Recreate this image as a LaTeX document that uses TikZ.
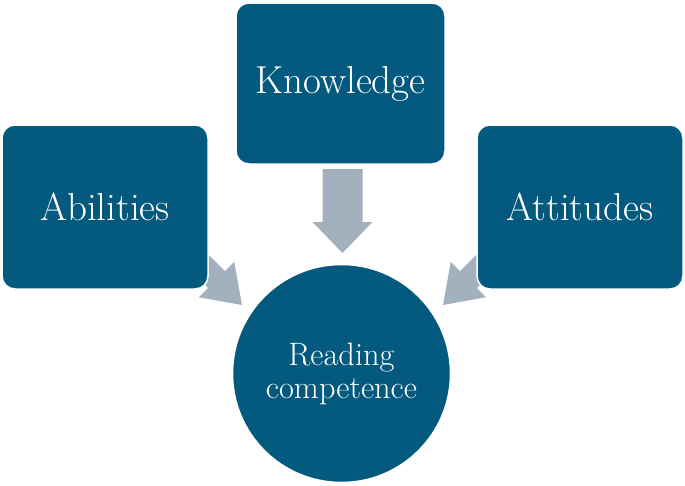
\documentclass[tikz,border=0pt]{standalone}
\usepackage{fontspec}
\usetikzlibrary{calc,backgrounds}
\definecolor{boxblue}{HTML}{045A7E}
\definecolor{arrowgray}{HTML}{A3B1BE}
% block arrow: start, tip, shaft half width, head half width, head length
\newcommand{\myblockarrow}[5]{%
  \coordinate (ba-h) at ($(#2)!#5!(#1)$);
  \fill[arrowgray] ($(#1)!#3!90:(#2)$) -- ($(ba-h)!#3!90:(#2)$) -- ($(ba-h)!#4!90:(#2)$) -- (#2)
    -- ($(ba-h)!#4!-90:(#2)$) -- ($(ba-h)!#3!-90:(#2)$) -- ($(#1)!#3!-90:(#2)$) -- cycle;
}
\tikzset{
  box/.style={rectangle, rounded corners=13pt, fill=boxblue, draw=white, line width=1.5pt,
    text=white, inner sep=0pt, font=\rmfamily\fontsize{39}{42}\selectfont},
  circ/.style={circle, fill=boxblue, draw=white, line width=1.5pt, text=white, inner sep=0pt,
    minimum size=218pt, align=center, font=\rmfamily\fontsize{32.4}{33}\selectfont}
}
\begin{document}
\begin{tikzpicture}[x=1pt,y=-1pt]
\useasboundingbox (0,0) rectangle (685,485);
\node[box, minimum width=209pt, minimum height=161pt] (know) at (340.5,83.5) {Knowledge};
\node[box, minimum width=206pt, minimum height=164pt] (abil) at (105,207) {Abilities};
\node[box, minimum width=206pt, minimum height=164pt] (atti) at (580,207) {Attitudes};
\node[circ] (read) at (341.5,373.5) {Reading\\competence};
\begin{scope}[on background layer]
  \coordinate (ka-s) at (342.5,169);
  \coordinate (ka-t) at (342.5,253);
  \coordinate (la-s) at (185,248);
  \coordinate (la-t) at (242,305);
  \coordinate (ra-s) at (500,248);
  \coordinate (ra-t) at (443,305);
  \myblockarrow{ka-s}{ka-t}{20pt}{30pt}{31pt}
  \myblockarrow{la-s}{la-t}{12pt}{25pt}{36pt}
  \myblockarrow{ra-s}{ra-t}{12pt}{25pt}{36pt}
\end{scope}
\end{tikzpicture}
\end{document}
